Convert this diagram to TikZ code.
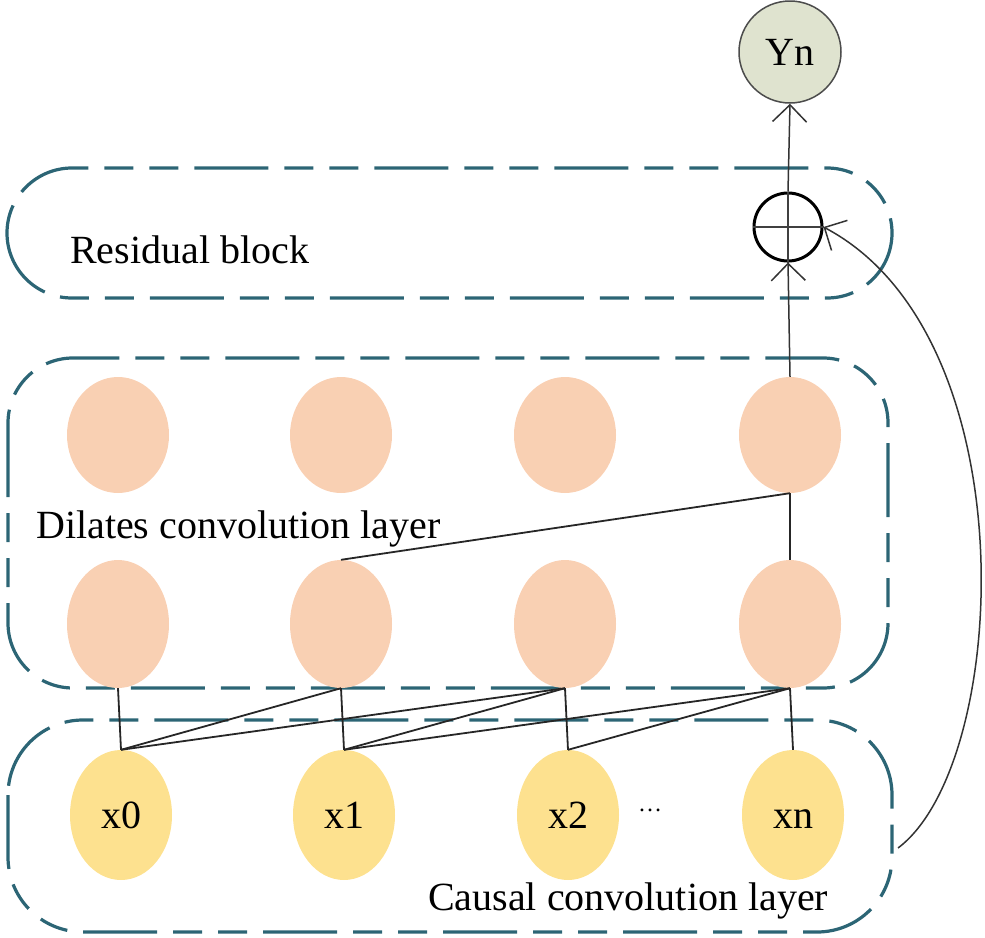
\documentclass[tikz,border=0pt]{standalone}
\usepackage{fontspec}
\setmainfont{Liberation Serif}
\usetikzlibrary{shapes.geometric,arrows.meta}
\definecolor{boxc}{HTML}{2C6575}
\definecolor{peach}{HTML}{F9D0B3}
\definecolor{yel}{HTML}{FDE18F}
\definecolor{ync}{HTML}{DFE3CF}
\begin{document}
\begin{tikzpicture}[x=1pt,y=-1pt,
  layerbox/.style={draw=boxc, line width=3.2pt, dash pattern=on 74pt off 16pt on 29pt off 16pt on 29pt off 16pt},
  dil/.style={ellipse, fill=peach, minimum width=102pt, inner sep=0pt},
  inp/.style={ellipse, fill=yel, minimum width=102pt, minimum height=130pt, inner sep=0pt, text height=27pt, text depth=0pt, font=\fontsize{40}{48}\selectfont},
  conn/.style={line width=1.8pt, draw=black!85},
  arr/.style={line width=1.5pt, draw=black!80, -{Straight Barb[length=17pt,width=34pt,line width=1.5pt]}},
  lbl/.style={font=\fontsize{40}{48}\selectfont, inner sep=0pt, anchor=base west}]
\useasboundingbox (0,0) rectangle (985,937);

% layer boxes
\draw[layerbox, rounded corners=65pt] (7,168) rectangle (892,298);
\draw[layerbox, rounded corners=65pt] (8,358) rectangle (888,688);
\draw[layerbox, rounded corners=75pt] (8,720) rectangle (892,932);

% dilated layer nodes
\node[dil, minimum height=116pt] (d11) at (118,435) {};
\node[dil, minimum height=116pt] (d12) at (341,435) {};
\node[dil, minimum height=116pt] (d13) at (565,435) {};
\node[dil, minimum height=116pt] (d14) at (790,435) {};
\node[dil, minimum height=128pt] (d21) at (118,624) {};
\node[dil, minimum height=128pt] (d22) at (341,624) {};
\node[dil, minimum height=128pt] (d23) at (565,624) {};
\node[dil, minimum height=128pt] (d24) at (790,624) {};

% inputs
\node[inp] (i1) at (121,815) {x0};
\node[inp] (i2) at (344,815) {x1};
\node[inp] (i3) at (568,815) {x2};
\node[inp] (i4) at (793,815) {xn};
\node[font=\fontsize{24}{24}\selectfont, inner sep=0pt, anchor=base] (dots) at (650,811) {…};

% plus and output
\node[circle, draw=black, line width=3pt, minimum size=68pt, inner sep=0pt] (plus) at (788,227) {};
\node[circle, draw=black!70, line width=1.5pt, fill=ync, minimum size=102pt, inner sep=0pt, font=\fontsize{40}{48}\selectfont] (yn) at (790,52) {Yn};

% labels
\node[lbl] (res) at (70,263) {Residual block};
\node[lbl] (dcl) at (36,538) {Dilates convolution layer};
\node[lbl] (ccl) at (428,910) {Causal convolution layer};

% causal connections
\draw[conn] (d21.south) -- (i1.north);
\draw[conn] (d22.south) -- (i2.north);
\draw[conn] (d23.south) -- (i3.north);
\draw[conn] (d24.south) -- (i4.north);
\draw[conn] (i1.north) -- (d22.south);
\draw[conn] (i1.north) -- (d23.south);
\draw[conn] (i2.north) -- (d23.south);
\draw[conn] (i2.north) -- (d24.south);
\draw[conn] (i3.north) -- (d24.south);

% dilated connections
\draw[conn] (d22.north) -- (d14.south);
\draw[conn] (d24.north) -- (d14.south);

% plus sign
\draw[line width=1.5pt, draw=black!75] (plus.west) -- (plus.east);
\draw[line width=1.5pt, draw=black!75] (plus.south) -- (plus.north);

% arrows
\draw[arr] (d14.north) -- (plus.south);
\draw[arr] (plus.north) -- (yn.south);
\coordinate (cstart) at (898,848);
\draw[arr] (cstart) .. controls (1010,764) and (1030,336) .. (plus.east);
\end{tikzpicture}
\end{document}
